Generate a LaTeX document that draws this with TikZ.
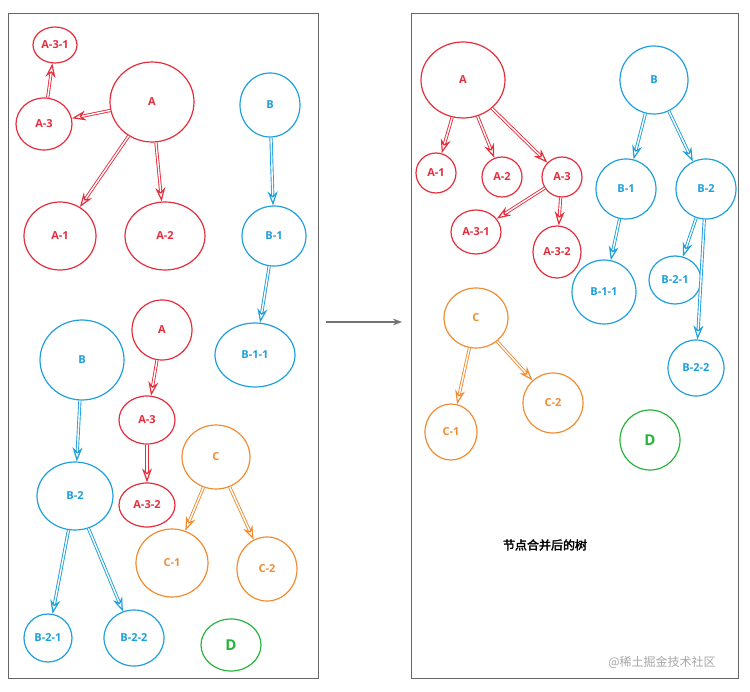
\documentclass[tikz,border=0pt]{standalone}
\usepackage{fontspec}
\setmainfont{Open Sans}
\newfontfamily\cjk{Noto Sans CJK SC}
\newfontfamily\cjkb[FakeBold=2.5]{Noto Sans CJK SC}
\usetikzlibrary{shapes.geometric,arrows.meta}
\definecolor{cr}{RGB}{230,45,60}
\definecolor{cb}{RGB}{30,160,220}
\definecolor{co}{RGB}{240,140,50}
\definecolor{cg}{RGB}{40,180,60}
\begin{document}
\begin{tikzpicture}[x=1pt,y=-1pt,
  nd/.style={ellipse,draw,line width=1.2pt,inner sep=0pt,font=\bfseries\fontsize{11}{13}\selectfont},
  r/.style={nd,cr,text=cr}, b/.style={nd,cb,text=cb}, o/.style={nd,co,text=co}, g/.style={nd,cg,text=cg,font=\bfseries\fontsize{15}{17}\selectfont},
  ar/.style={line width=0.9pt,double distance=1.4pt,-{Stealth[open,length=14pt,width=10pt,line width=1.2pt]}}]
\useasboundingbox (0,0) rectangle (750,692);
\draw[line width=1pt,gray!80!black] (8,14) rectangle (318,678);
\draw[line width=1pt,gray!80!black] (411,14) rectangle (738,678);
\coordinate (m1) at (326,322); \coordinate (m2) at (402,322);
\draw[line width=1.8pt,gray!90!black,-{Stealth[length=9pt]}] (m1) -- (m2);
% left
\node[r,minimum width=44,minimum height=36] (la31) at (55,45) {A-3-1};
\node[r,minimum width=56,minimum height=52] (la3) at (44,124) {A-3};
\node[r,minimum width=84,minimum height=80] (la) at (152,102) {A};
\node[b,minimum width=60,minimum height=64] (lb) at (270,105) {B};
\node[r,minimum width=72,minimum height=68] (la1) at (60,236) {A-1};
\node[r,minimum width=80,minimum height=68] (la2) at (165,236) {A-2};
\node[b,minimum width=64,minimum height=60] (lb1) at (274,236) {B-1};
\node[b,minimum width=80,minimum height=64] (lb11) at (255,355) {B-1-1};
\node[b,minimum width=84,minimum height=80] (lbb) at (82,360) {B};
\node[r,minimum width=60,minimum height=60] (laa) at (162,330) {A};
\node[r,minimum width=56,minimum height=48] (laa3) at (147,420) {A-3};
\node[o,minimum width=68,minimum height=64] (lc) at (216,457) {C};
\node[r,minimum width=56,minimum height=44] (laa32) at (147,505) {A-3-2};
\node[b,minimum width=76,minimum height=68] (lb2) at (75,496) {B-2};
\node[o,minimum width=72,minimum height=68] (lc1) at (172,563) {C-1};
\node[o,minimum width=60,minimum height=64] (lc2) at (267,569) {C-2};
\node[b,minimum width=48,minimum height=48] (lb21) at (48,638) {B-2-1};
\node[b,minimum width=60,minimum height=56] (lb22) at (134,638) {B-2-2};
\node[g,minimum width=60,minimum height=52] (ld) at (231,645) {D};
\draw[ar,cr] (la) -- (la3); \draw[ar,cr] (la3) -- (la31);
\draw[ar,cr] (la) -- (la1); \draw[ar,cr] (la) -- (la2);
\draw[ar,cb] (lb) -- (lb1); \draw[ar,cb] (lb1) -- (lb11);
\draw[ar,cb] (lbb) -- (lb2); \draw[ar,cb] (lb2) -- (lb21); \draw[ar,cb] (lb2) -- (lb22);
\draw[ar,cr] (laa) -- (laa3); \draw[ar,cr] (laa3.south) -- (laa32.north);
\draw[ar,co] (lc) -- (lc1); \draw[ar,co] (lc) -- (lc2);
% right
\node[r,minimum width=84,minimum height=76] (ra) at (463,80) {A};
\node[r,minimum width=40,minimum height=40] (ra1) at (436,173) {A-1};
\node[r,minimum width=40,minimum height=40] (ra2) at (502,177) {A-2};
\node[r,minimum width=40,minimum height=40] (ra3) at (562,177) {A-3};
\node[r,minimum width=50,minimum height=44] (ra31) at (476,232) {A-3-1};
\node[r,minimum width=48,minimum height=52] (ra32) at (557,252) {A-3-2};
\node[b,minimum width=68,minimum height=68] (rb) at (654,80) {B};
\node[b,minimum width=60,minimum height=60] (rb1) at (626,189) {B-1};
\node[b,minimum width=60,minimum height=60] (rb2) at (706,189) {B-2};
\node[b,minimum width=52,minimum height=48] (rb21) at (675,280) {B-2-1};
\node[b,minimum width=64,minimum height=64] (rb11) at (604,292) {B-1-1};
\node[o,minimum width=64,minimum height=60] (rc) at (476,318) {C};
\node[o,minimum width=60,minimum height=60] (rc2) at (553,403) {C-2};
\node[o,minimum width=52,minimum height=56] (rc1) at (451,432) {C-1};
\node[b,minimum width=56,minimum height=56] (rb22) at (696,368) {B-2-2};
\node[g,minimum width=60,minimum height=60] (rd) at (650,440) {D};
\draw[ar,cr] (ra) -- (ra1); \draw[ar,cr] (ra) -- (ra2); \draw[ar,cr] (ra) -- (ra3);
\draw[ar,cr] (ra3) -- (ra31); \draw[ar,cr] (ra3) -- (ra32);
\draw[ar,cb] (rb) -- (rb1); \draw[ar,cb] (rb) -- (rb2); \draw[ar,cb] (rb1) -- (rb11);
\draw[ar,cb] (rb2) -- (rb21); \draw[ar,cb] (rb2) -- (rb22);
\draw[ar,co] (rc) -- (rc1); \draw[ar,co] (rc) -- (rc2);
\node[font=\cjkb\fontsize{12}{14}\selectfont] (t) at (545,545) {节点合并后的树};
\node[font=\cjk\fontsize{12}{14}\selectfont,text=gray!70] (w) at (662,662) {@稀土掘金技术社区};
\end{tikzpicture}
\end{document}
